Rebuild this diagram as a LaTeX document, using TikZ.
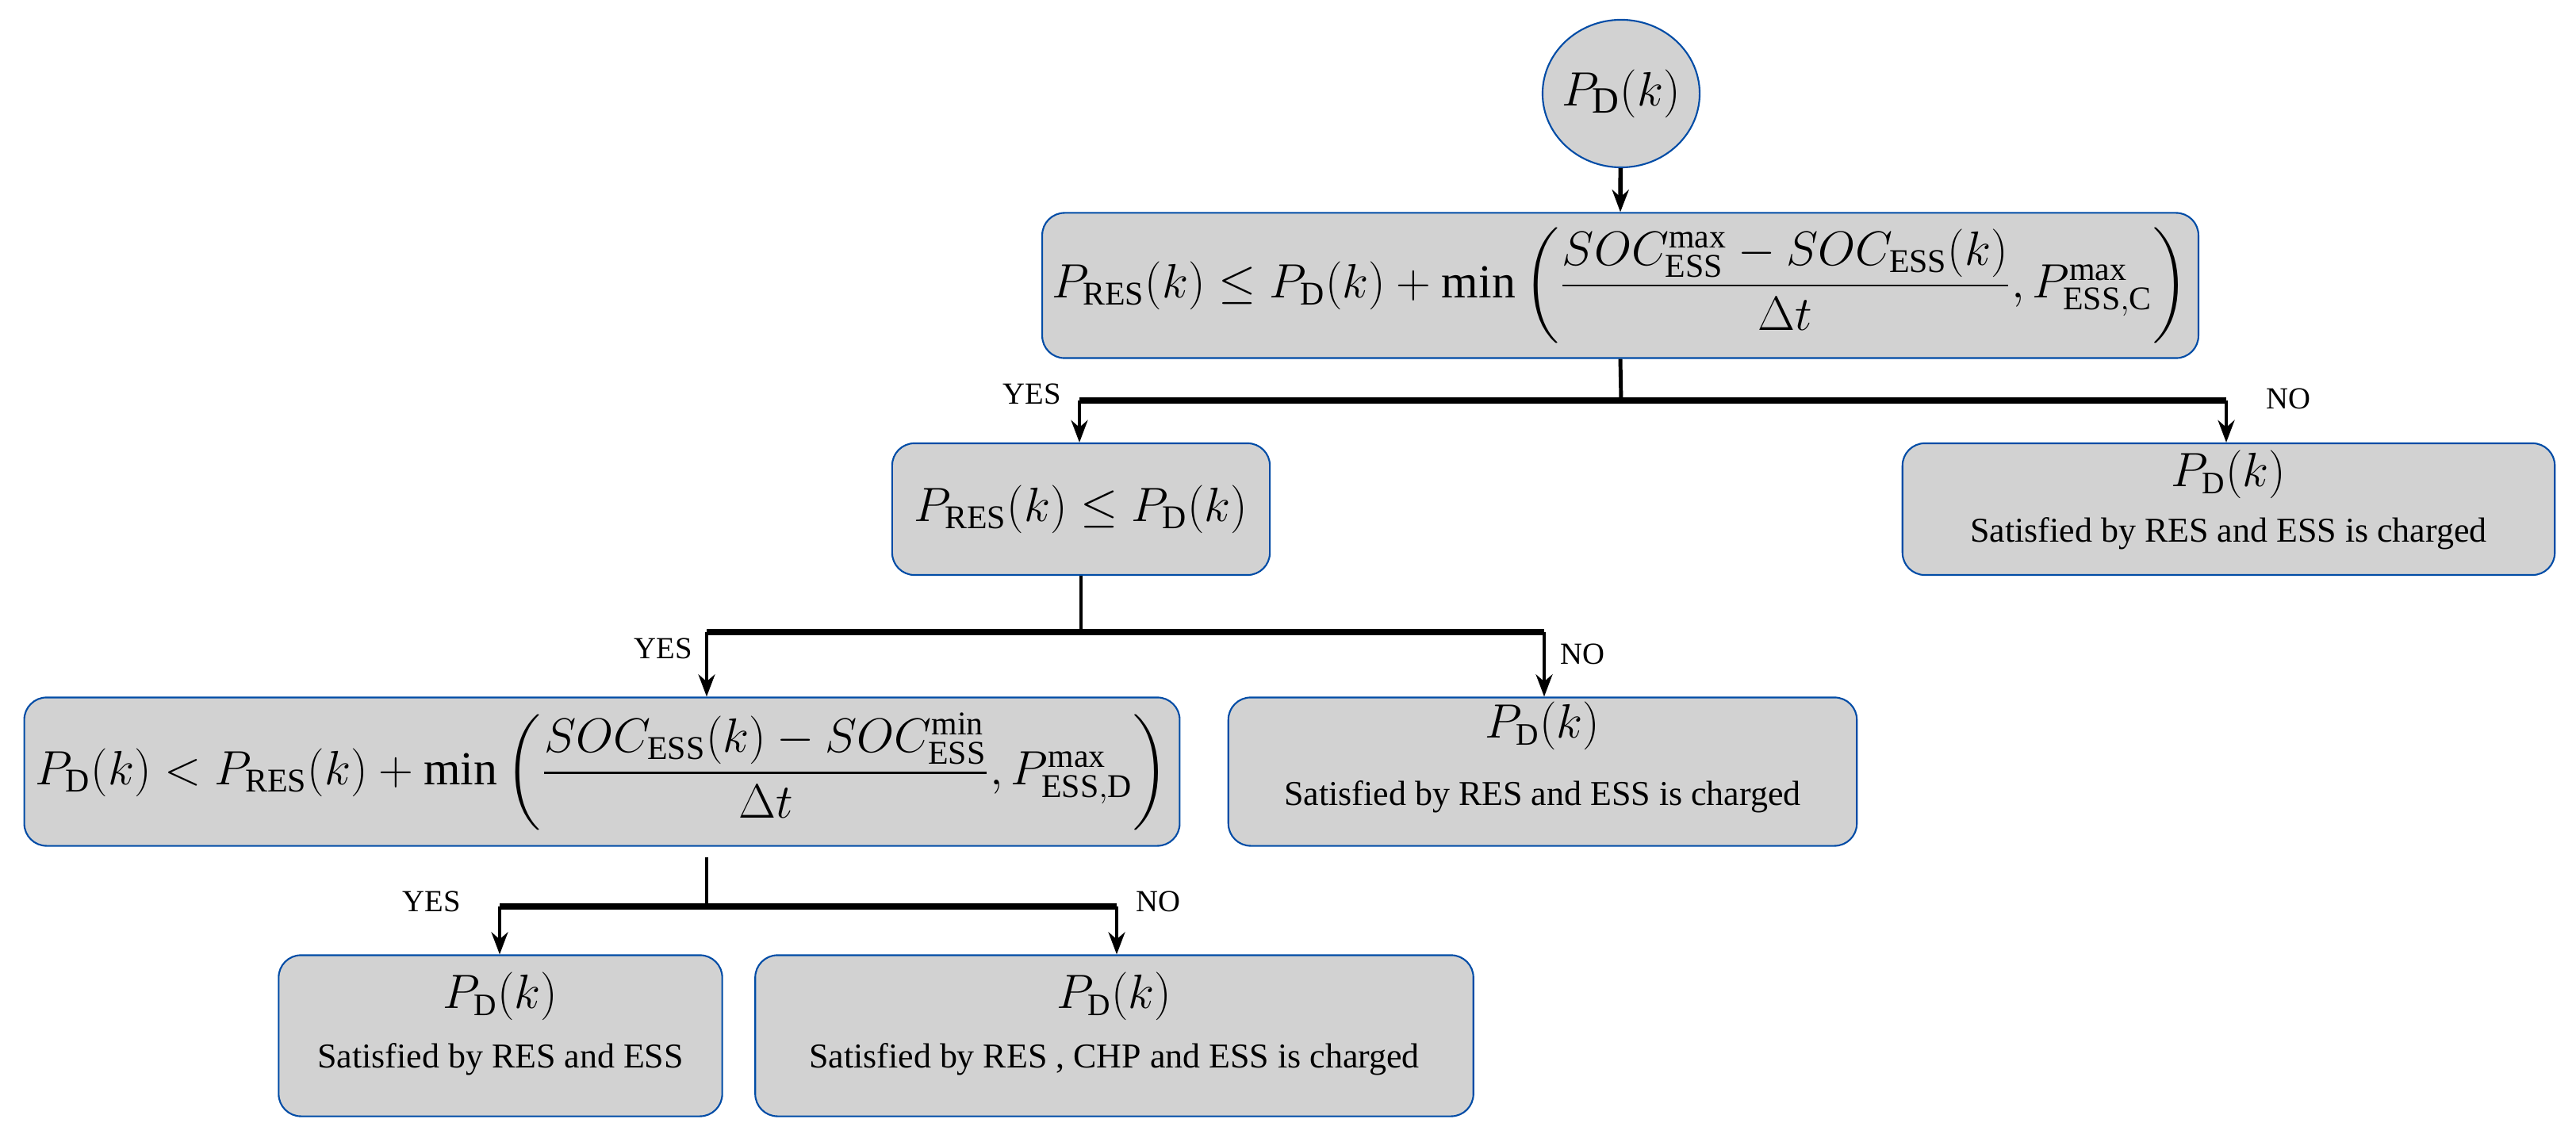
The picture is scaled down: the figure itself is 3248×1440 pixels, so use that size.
\documentclass[tikz,border=0pt]{standalone}
\usepackage{amsmath}
\usepackage{fontspec}
\setmainfont{Liberation Serif}
\usetikzlibrary{arrows.meta,shapes.geometric}
\begin{document}
\begin{tikzpicture}[x=0.01cm,y=-0.01cm,
  box/.style={draw=blue!50!black!70!cyan, line width=0.6pt, fill=gray!35!white, rounded corners=8pt, inner sep=0pt},
  stem/.style={line width=1.4pt},
  bar/.style={line width=2.4pt},
  arr/.style={line width=1pt,-{Stealth[length=8pt,width=6pt]}},
  yn/.style={font=\fontsize{11}{12}\selectfont},
  txt/.style={font=\fontsize{12.5}{14}\selectfont}]
\useasboundingbox (0,0) rectangle (3248,1440);
\fill[white] (0,0) rectangle (3248,1440);
\node[draw=blue!50!black!70!cyan, line width=0.6pt, fill=gray!35!white, ellipse, minimum width=1.98cm, minimum height=1.86cm, inner sep=0pt] (c) at (2044,118) {};
\node at (2044,118) {\fontsize{19}{22}\selectfont$P_{\mathrm{D}}(k)$};
\node[box, minimum width=14.57cm, minimum height=1.83cm] (b1) at (2043,360)
 {\fontsize{17}{20}\selectfont$P_{\mathrm{RES}}(k)\le P_{\mathrm{D}}(k)+\min\left(\dfrac{SOC_{\mathrm{ESS}}^{\max}-SOC_{\mathrm{ESS}}(k)}{\Delta t},P_{\mathrm{ESS,C}}^{\max}\right)$};
\node[box, minimum width=4.76cm, minimum height=1.66cm] (b2) at (1363,642)
 {\fontsize{17}{20}\selectfont$P_{\mathrm{RES}}(k)\le P_{\mathrm{D}}(k)$};
\node[box, minimum width=8.22cm, minimum height=1.66cm] (r1) at (2810,642) {};
\node[txt] at (2810,598) {\fontsize{16}{18}\selectfont$P_{\mathrm{D}}(k)$};
\node[txt] at (2810,673) {Satisfied by RES and ESS is charged};
\node[box, minimum width=14.56cm, minimum height=1.87cm] (b3) at (759,973)
 {\fontsize{17}{20}\selectfont$P_{\mathrm{D}}(k)<P_{\mathrm{RES}}(k)+\min\left(\dfrac{SOC_{\mathrm{ESS}}(k)-SOC_{\mathrm{ESS}}^{\min}}{\Delta t},P_{\mathrm{ESS,D}}^{\max}\right)$};
\node[box, minimum width=7.92cm, minimum height=1.87cm] (r2) at (1945,973) {};
\node[txt] at (1945,915) {\fontsize{16}{18}\selectfont$P_{\mathrm{D}}(k)$};
\node[txt] at (1945,1005) {Satisfied by RES and ESS is charged};
\node[box, minimum width=5.59cm, minimum height=2.03cm] (b4) at (631,1306) {};
\node[txt] at (631,1256) {\fontsize{16}{18}\selectfont$P_{\mathrm{D}}(k)$};
\node[txt] at (631,1336) {Satisfied by RES and ESS};
\node[box, minimum width=9.05cm, minimum height=2.03cm] (b5) at (1405,1306) {};
\node[txt] at (1405,1256) {\fontsize{16}{18}\selectfont$P_{\mathrm{D}}(k)$};
\node[txt] at (1405,1336) {Satisfied by RES , CHP and ESS is charged};
% connectors
\draw[arr,line width=1.6pt] (c) -- (b1.north);
\coordinate (j1) at (2044,505);
\coordinate (l1) at (1361,505);
\coordinate (m1) at (2807,505);
\draw[stem] (b1.south) -- (j1);
\draw[bar] (l1) -- (m1);
\draw[arr] (l1) -- (l1 |- b2.north);
\draw[arr] (m1) -- (m1 |- r1.north);
\node[yn, anchor=east] at (1350,497) {YES};
\node[yn, anchor=west] at (2845,503) {NO};
\coordinate (j2) at (1363,797);
\coordinate (l2) at (891,797);
\coordinate (m2) at (1947,797);
\draw[stem] (b2.south) -- (j2);
\draw[bar] (l2) -- (m2);
\draw[arr] (l2) -- (l2 |- b3.north);
\draw[arr] (m2) -- (m2 |- r2.north);
\node[yn, anchor=east] at (885,818) {YES};
\node[yn, anchor=west] at (1955,825) {NO};
\coordinate (s3) at (891,1081);
\coordinate (j3) at (891,1143);
\coordinate (l3) at (630,1143);
\coordinate (m3) at (1408,1143);
\draw[stem] (s3) -- (j3);
\draw[bar] (l3) -- (m3);
\draw[arr] (l3) -- (l3 |- b4.north);
\draw[arr] (m3) -- (m3 |- b5.north);
\node[yn, anchor=east] at (593,1137) {YES};
\node[yn, anchor=west] at (1420,1137) {NO};
\end{tikzpicture}
\end{document}
